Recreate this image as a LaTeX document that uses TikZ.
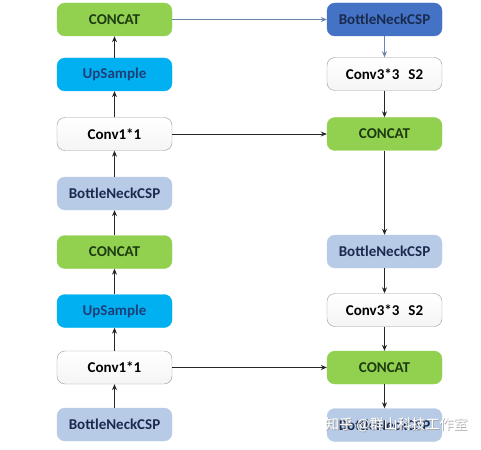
\documentclass[tikz,border=0pt]{standalone}
\usepackage{fontspec}
\setmainfont{Carlito}
\newfontfamily\cjkfont{Noto Sans CJK SC}
\usetikzlibrary{arrows.meta}
\definecolor{cgreen}{HTML}{92D050}
\definecolor{cgreentxt}{HTML}{1E3A10}
\definecolor{cup}{HTML}{00B0F0}
\definecolor{cuptxt}{HTML}{1F3F7A}
\definecolor{clight}{HTML}{B8CBE6}
\definecolor{cdark}{HTML}{4472C4}
\definecolor{cnavy}{HTML}{1A2A4F}
\definecolor{cborder}{HTML}{9A9A9A}
\definecolor{carrowblue}{HTML}{6A86A8}
\tikzset{
  blk/.style={rounded corners=8pt, minimum width=115pt, minimum height=33pt,
    inner sep=0pt, font=\fontsize{15}{18}\selectfont\bfseries},
  green/.style={blk, fill=cgreen, draw=cgreen, text=cgreentxt},
  up/.style={blk, fill=cup, draw=cup, text=cuptxt},
  bneck/.style={blk, fill=clight, draw=clight, text=cnavy},
  bdark/.style={blk, fill=cdark, draw=cdark, text=cnavy},
  conv/.style={blk, top color=white, bottom color=gray!8, draw=cborder, text=black},
  arr/.style={-{Stealth[length=6pt,width=5pt]}, line width=0.8pt, draw=black!85},
  arrb/.style={-{Stealth[length=6pt,width=5pt]}, line width=0.8pt, draw=carrowblue},
  wmark/.style={font=\cjkfont\fontsize{14}{16}\selectfont, inner sep=0pt, anchor=west},
}
\begin{document}
\begin{tikzpicture}[x=1pt,y=-1pt]
\useasboundingbox (0,0) rectangle (481,449);
% left column
\node[green] (lc1) at (114.5,19.5) {CONCAT};
\node[up] (lu1) at (114.5,74.5) {UpSample};
\node[conv] (lv1) at (114.5,134) {Conv1*1};
\node[bneck] (lb1) at (114.5,193.5) {BottleNeckCSP};
\node[green] (lc2) at (114.5,252) {CONCAT};
\node[up] (lu2) at (114.5,311) {UpSample};
\node[conv] (lv2) at (114.5,367.5) {Conv1*1};
\node[bneck] (lb2) at (114.5,424.5) {BottleNeckCSP};
% right column
\node[bdark] (rb1) at (384.5,19.5) {BottleNeckCSP};
\node[conv] (rv1) at (384.5,74) {Conv3*3\hspace{0.6em}S2};
\node[green] (rc1) at (384.5,134) {CONCAT};
\node[bneck] (rb2) at (384.5,251.5) {BottleNeckCSP};
\node[conv] (rv2) at (384.5,310) {Conv3*3\hspace{0.6em}S2};
\node[green] (rc2) at (384.5,367.5) {CONCAT};
\node[bneck] (rb3) at (384.5,425) {BottleNeckCSP};
% left arrows (upwards)
\draw[arr] (lb2) -- (lv2);
\draw[arr] (lv2) -- (lu2);
\draw[arr] (lu2) -- (lc2);
\draw[arr] (lc2) -- (lb1);
\draw[arr] (lb1) -- (lv1);
\draw[arr] (lv1) -- (lu1);
\draw[arr] (lu1) -- (lc1);
% horizontal
\draw[arrb] (lc1) -- (rb1);
\draw[arr] (lv1) -- (rc1);
\draw[arr] (lv2) -- (rc2);
% right arrows (downwards)
\draw[arrb] (rb1) -- (rv1);
\draw[arr] (rv1) -- (rc1);
\draw[arr] (rc1) -- (rb2);
\draw[arr] (rb2) -- (rv2);
\draw[arr] (rv2) -- (rc2);
\draw[arr] (rc2) -- (rb3);
% watermark (gray shadow + white text)
\node[wmark, text=gray!70] (wms) at (325.8,425.8) {知乎 @群山科技工作室};
\node[wmark, text=white] (wm) at (325,425) {知乎 @群山科技工作室};
\end{tikzpicture}
\end{document}
